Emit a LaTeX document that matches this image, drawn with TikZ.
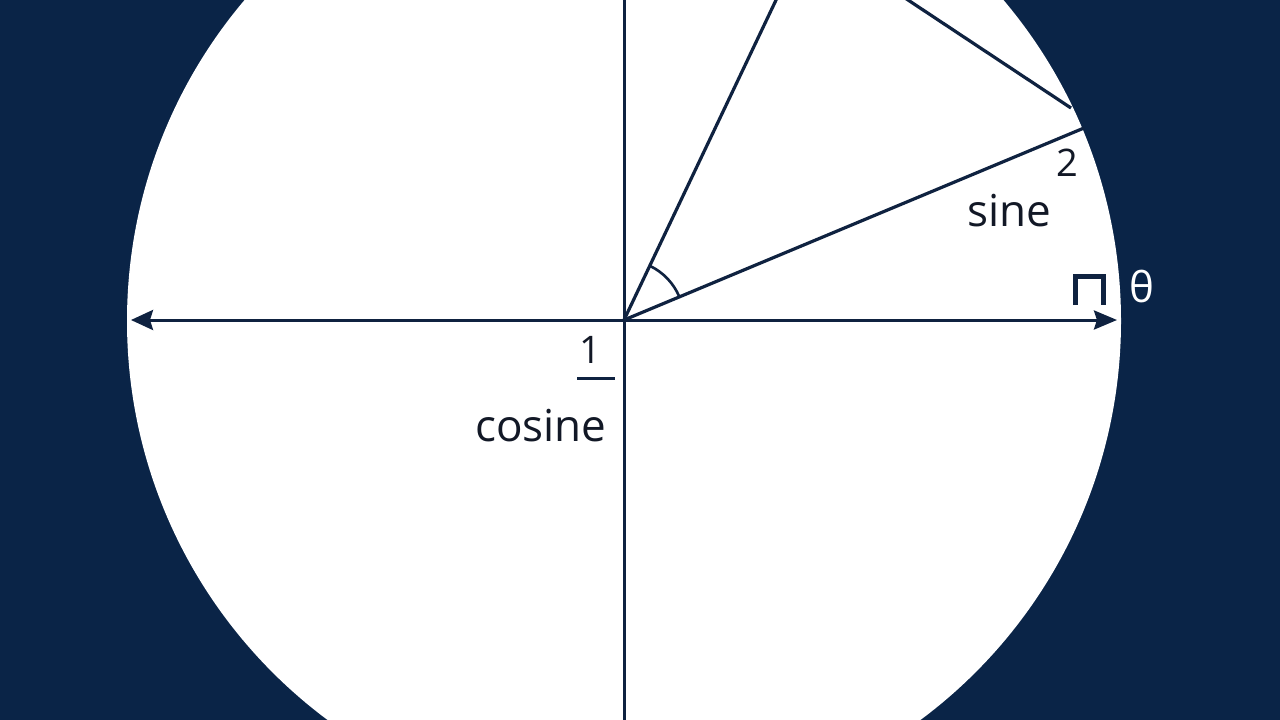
\documentclass[tikz,border=0pt]{standalone}
\usepackage{fontspec}
\setmainfont{Open Sans}
\usetikzlibrary{arrows.meta}
\definecolor{navybg}{HTML}{0A2447}
\definecolor{inkline}{HTML}{0F2240}
\definecolor{inktext}{HTML}{121826}
\tikzset{
  axisline/.style={draw=inkline, line width=3pt},
  rayline/.style={draw=inkline, line width=3.2pt},
  lbl/.style={text=inktext, inner sep=0pt, font=\fontsize{44}{50}\selectfont},
  numlbl/.style={text=inktext, inner sep=0pt, font=\fontsize{38}{44}\selectfont},
  whitelbl/.style={text=white, inner sep=0pt, font=\fontsize{42}{48}\selectfont},
}
\begin{document}
\begin{tikzpicture}[x=1pt,y=-1pt]
\useasboundingbox (0,0) rectangle (1280,720);
\clip (0,0) rectangle (1280,720);
\fill[navybg] (0,0) rectangle (1280,720);
\fill[white] (624,321) circle[radius=497];
% coordinates
\coordinate (O) at (624,320);
\coordinate (L) at (131,320);
\coordinate (R) at (1117,320);
\coordinate (T) at (624,0);
\coordinate (B) at (624,720);
\coordinate (P1) at (777,-2);
\coordinate (P2) at (1084,128);
\coordinate (Q1) at (905,-2);
\coordinate (Q2) at (1071,108);
% axes
\draw[axisline] (T) -- (B);
\draw[axisline, {Stealth[length=22pt,width=20pt,inset=3pt]}-{Stealth[length=23pt,width=19pt,inset=3pt]}] (L) -- (R);
% rays
\draw[rayline] (O) -- (P1);
\draw[rayline] (O) -- (P2);
\draw[rayline] (Q1) -- (Q2);
% angle arc
\draw[rayline, line width=2.6pt] (O) ++(-64.3:60) arc[start angle=-64.3, end angle=-22.7, radius=60];
% right-angle marker
\draw[draw=inkline, line width=5pt] (1075,305) -- (1075,276) -- (1103,276) -- (1103,305);
% labels
\node[numlbl, anchor=base] (two) at (1067,176) {2};
\node[lbl, anchor=base west] (sine) at (967,226) {sine};
\node[numlbl, anchor=base] (one) at (590,363) {1};
\draw[draw=inkline, line width=3pt] (577,378) -- (615,378);
\node[lbl, anchor=base west] (cosine) at (475,441) {cosine};
\node[whitelbl, anchor=base west] (theta) at (1129,302) {θ};
\end{tikzpicture}
\end{document}
